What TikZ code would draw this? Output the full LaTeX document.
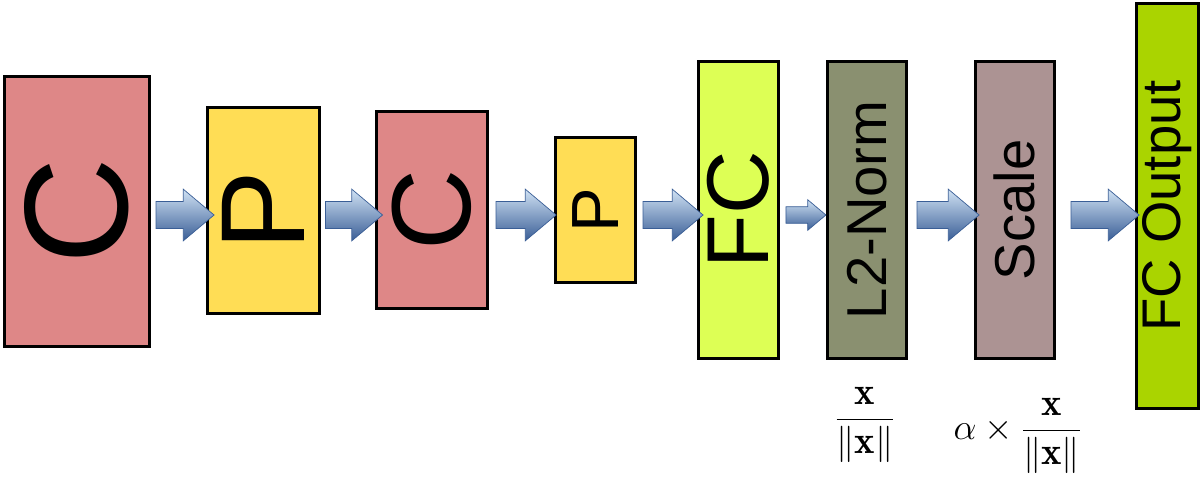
\documentclass[tikz,border=0pt]{standalone}
\usepackage{fontspec}
\usepackage{amsmath}
\setsansfont{Liberation Sans}
\usetikzlibrary{shapes,arrows,calc,fit,positioning}
\definecolor{convred}{HTML}{DE8787}
\definecolor{poolyel}{HTML}{FFDD55}
\definecolor{fclime}{HTML}{DDFF55}
\definecolor{normgray}{HTML}{8A9070}
\definecolor{scalemauve}{HTML}{AC9393}
\definecolor{outgreen}{HTML}{AAD400}
\definecolor{flowlight}{HTML}{D0E2F4}
\definecolor{flowdark}{HTML}{3A5E96}

\begin{document}
\begin{tikzpicture}[
  x=0.02cm, y=-0.02cm,
  layer/.style={rectangle, draw, line width=1.5pt, inner sep=0pt, anchor=north west, font=\sffamily},
  flow/.style={single arrow, draw=flowdark, line width=0.4pt, inner xsep=0pt, inner ysep=7.5pt,
    single arrow head extend=7pt, single arrow tip angle=80,
    shading=axis, top color=flowlight, bottom color=flowdark, shading angle=0},
  ]
  \useasboundingbox (0,0) rectangle (1200,477);
  \node[layer, fill=convred, minimum width=145*0.02cm, minimum height=270*0.02cm] (C1) at (3,75) {};
  \node[layer, fill=poolyel, minimum width=112*0.02cm, minimum height=206*0.02cm] (P1) at (206,106) {};
  \node[layer, fill=convred, minimum width=111*0.02cm, minimum height=197*0.02cm] (C2) at (375,110) {};
  \node[layer, fill=poolyel, minimum width=80*0.02cm, minimum height=145*0.02cm] (P2) at (554,136) {};
  \node[layer, fill=fclime, minimum width=80*0.02cm, minimum height=297*0.02cm] (FC) at (697,60) {};
  \node[layer, fill=normgray, minimum width=79*0.02cm, minimum height=297*0.02cm] (L2) at (826,60) {};
  \node[layer, fill=scalemauve, minimum width=79*0.02cm, minimum height=297*0.02cm] (SC) at (974,60) {};
  \node[layer, fill=outgreen, minimum width=62*0.02cm, minimum height=405*0.02cm] (OUT) at (1135,2) {};

  % labels
  \node[rotate=90, font=\sffamily\fontsize{84}{84}\selectfont] at (C1.center) {C};
  \node[rotate=90, font=\sffamily\fontsize{68}{68}\selectfont] at (P1.center) {P};
  \node[rotate=90, font=\sffamily\fontsize{64}{64}\selectfont] at (C2.center) {C};
  \node[rotate=90, font=\sffamily\fontsize{38}{38}\selectfont] at (P2.center) {P};
  \node[rotate=90, font=\sffamily\fontsize{50}{50}\selectfont] at (FC.center) {FC};
  \node[rotate=90, font=\sffamily\fontsize{32}{32}\selectfont] at (L2.center) {L2-Norm};
  \node[rotate=90, font=\sffamily\fontsize{32}{32}\selectfont] at (SC.center) {Scale};
  \node[rotate=90, font=\sffamily\fontsize{31}{31}\selectfont] at (OUT.center) {FC Output};

  % arrows
  \node[flow, minimum height=58*0.02cm] (A1) at (177,215) {};
  \node[flow, minimum height=57*0.02cm] (A2) at (346,215) {};
  \node[flow, minimum height=60*0.02cm] (A3) at (518,215) {};
  \node[flow, minimum height=60*0.02cm] (A4) at (665,215) {};
  \node[flow, minimum height=40*0.02cm, inner ysep=4.5pt, single arrow head extend=4pt] (A5) at (801,215) {};
  \node[flow, minimum height=62*0.02cm] (A6) at (940,215) {};
  \node[flow, minimum height=68*0.02cm] (A7) at (1097,215) {};

  % formulas
  \node[font=\fontsize{22}{26}\selectfont] (F1) at (865,425) {$\dfrac{\mathbf{x}}{\|\mathbf{x}\|}$};
  \node[font=\fontsize{22}{26}\selectfont] (F2) at (1018,436) {$\alpha\times\dfrac{\mathbf{x}}{\|\mathbf{x}\|}$};
\end{tikzpicture}
\end{document}
